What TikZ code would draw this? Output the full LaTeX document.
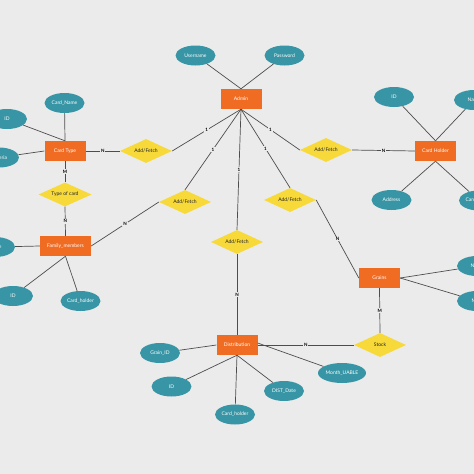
\documentclass[tikz,border=0pt]{standalone}
\usepackage{fontspec}
\setmainfont{Lato}
\usetikzlibrary{shapes.geometric}
\definecolor{bgc}{HTML}{EBEBEB}
\definecolor{entc}{HTML}{F06C23}
\definecolor{attc}{HTML}{3795A5}
\definecolor{relc}{HTML}{F7D93A}
\definecolor{linec}{HTML}{4D4D4D}
\tikzset{
  ent/.style={rectangle, fill=entc, text=white, minimum width=41pt, minimum height=20pt, inner sep=0pt, font=\fontsize{5}{6}\selectfont},
  att/.style={ellipse, fill=attc, text=white, minimum width=40pt, minimum height=20pt, inner sep=0pt, font=\fontsize{5}{6}\selectfont},
  rel/.style={diamond, aspect=2.1, fill=relc, text=black!85, minimum width=52pt, minimum height=24pt, inner sep=0pt, font=\fontsize{5}{6}\selectfont},
  conn/.style={draw=linec, line width=0.7pt},
  card/.style={fill=bgc, inner sep=0.8pt, font=\bfseries\fontsize{4.5}{5}\selectfont, text=black},
}
\begin{document}
\begin{tikzpicture}[x=1pt,y=-1pt]
\useasboundingbox (0,0) rectangle (474,474);
\clip (0,0) rectangle (474,474);
\fill[bgc] (0,0) rectangle (474,474);

% entities
\node[ent] (admin) at (241,99) {Admin};
\node[ent] (ctype) at (65,151) {Card Type};
\node[ent, minimum width=51pt] (family) at (65.5,246) {Family\_members};
\node[ent] (holder) at (435.5,151) {Card Holder};
\node[ent] (grains) at (379.5,278) {Grains};
\node[ent] (dist) at (237,345) {Distribution};

% relationships
\node[rel] (af1) at (146,151) {Add/Fetch};
\node[rel, minimum width=53pt] (toc) at (65,194.5) {Type of card};
\node[rel] (af2) at (185,202) {Add/Fetch};
\node[rel] (af3) at (237,242) {Add/Fetch};
\node[rel] (af4) at (290,200) {Add/Fetch};
\node[rel] (af5) at (326,150) {Add/Fetch};
\node[rel] (stock) at (380,345) {Stock};

% attributes
\node[att] (uname) at (195.5,55.5) {Username};
\node[att] (pwd) at (284.5,55.5) {Password};
\node[att] (cname) at (64.5,103) {Card\_Name};
\node[att] (ctid) at (7,119) {ID};
\node[att] (crit) at (-1,157.5) {Criteria};
\node[att] (fname) at (-5,247) {Name};
\node[att] (fid) at (13,296) {ID};
\node[att] (fholder) at (80.5,301) {Card\_holder};
\node[att] (hid) at (394,97) {ID};
\node[att] (hname) at (474,100) {Name};
\node[att] (haddr) at (391.5,200) {Address};
\node[att] (hcard) at (479,200.5) {Card\_holder};
\node[att] (gname) at (477,266) {Name};
\node[att] (gmrp) at (477,301) {MRP};
\node[att] (dgid) at (160,353) {Grain\_ID};
\node[att] (did) at (171.5,386.5) {ID};
\node[att] (dholder) at (235,414.5) {Card\_holder};
\node[att] (ddate) at (284,391) {DIST\_Date};
\node[att, minimum width=48pt] (dmonth) at (342,373) {Month\_UABLE};

% attribute connectors
\draw[conn] (uname) -- (admin.north);
\draw[conn] (pwd) -- (admin.north);
\draw[conn] (cname) -- (ctype.north);
\draw[conn] (ctid) -- (ctype.north);
\draw[conn] (crit) -- (ctype.west);
\draw[conn] (fname) -- (family.west);
\draw[conn] (fid) -- (family.south);
\draw[conn] (fholder) -- (family.south);
\draw[conn] (hid) -- (holder.north);
\draw[conn] (hname) -- (holder.north);
\draw[conn] (haddr) -- (holder.south);
\draw[conn] (hcard) -- (holder.south);
\draw[conn] (gname) -- (grains.east);
\draw[conn] (gmrp) -- (grains.east);
\draw[conn] (dgid) -- (dist.west);
\draw[conn] (did) -- (dist.south);
\draw[conn] (dholder) -- (dist.south);
\draw[conn] (ddate) -- (dist.south);
\draw[conn] (dmonth) -- ([yshift=2pt]dist.east);

% relationship connectors
\draw[conn] (ctype.east) -- node[card]{N} (af1.west);
\draw[conn] (af1.east) -- node[card]{1} (admin.south);
\draw[conn] (ctype.south) -- node[card]{M} (toc.north);
\draw[conn] (toc.south) -- node[card]{N} (family.north);
\draw[conn] (family.east) -- node[card]{N} (af2.west);
\draw[conn] (af2.north) -- node[card]{1} (admin.south);
\draw[conn] (admin.south) -- node[card]{1} (af3.north);
\draw[conn] (af3.south) -- node[card]{N} (dist.north);
\draw[conn] (admin.south) -- node[card]{1} (af4.north);
\draw[conn] (af4.east) -- node[card]{N} (grains.west);
\draw[conn] (admin.south) -- node[card]{1} (af5.west);
\draw[conn] (af5.east) -- node[card]{N} (holder.west);
\draw[conn] (grains.south) -- node[card]{M} (stock.north);
\draw[conn] (stock.west) -- node[card]{N} (dist.east);
\end{tikzpicture}
\end{document}
